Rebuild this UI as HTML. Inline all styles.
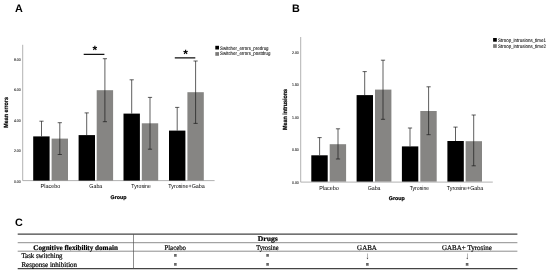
<!DOCTYPE html><html><head><meta charset="utf-8"><title>Figure</title>
<style>html,body{margin:0;padding:0;background:#fff}svg{display:block}text{text-rendering:geometricPrecision;font-family:"Liberation Sans",Arial,sans-serif;fill:#000}.t{stroke:#333;stroke-width:0.08px}.u{stroke:#000;stroke-width:0.2px}.s{font-family:"Liberation Serif","Times New Roman",serif}</style></head><body>
<svg width="550" height="274" viewBox="0 0 550 274">
<rect width="550" height="274" fill="#fff"/>
<text x="15.1" y="12.1" font-size="10.8" font-weight="bold">A</text>
<text x="292.0" y="12.1" font-size="10.8" font-weight="bold">B</text>
<text x="15.1" y="226.2" font-size="10.8" font-weight="bold">C</text>
<path d="M22.7 44.8V180.6H214.6" stroke="#909090" stroke-width="0.7" fill="none"/>
<text transform="translate(20.7 60.65) scale(0.9 1)" class="t" font-size="3.9" text-anchor="end" fill="#333">8.00</text>
<text transform="translate(20.7 91.15) scale(0.9 1)" class="t" font-size="3.9" text-anchor="end" fill="#333">6.00</text>
<text transform="translate(20.7 121.65) scale(0.9 1)" class="t" font-size="3.9" text-anchor="end" fill="#333">4.00</text>
<text transform="translate(20.7 152.15) scale(0.9 1)" class="t" font-size="3.9" text-anchor="end" fill="#333">2.00</text>
<text transform="translate(20.7 183.05) scale(0.9 1)" class="t" font-size="3.9" text-anchor="end" fill="#333">0.00</text>
<rect x="33.20" y="136.40" width="16.40" height="44.20" fill="#000"/>
<rect x="51.60" y="138.60" width="16.40" height="42.00" fill="#868583"/>
<rect x="78.60" y="135.10" width="16.40" height="45.50" fill="#000"/>
<rect x="96.70" y="90.20" width="16.40" height="90.40" fill="#868583"/>
<rect x="123.50" y="113.60" width="16.40" height="67.00" fill="#000"/>
<rect x="141.80" y="123.30" width="16.40" height="57.30" fill="#868583"/>
<rect x="169.00" y="130.60" width="16.40" height="50.00" fill="#000"/>
<rect x="187.40" y="92.20" width="16.40" height="88.40" fill="#868583"/>
<path d="M41.50 121.20V136.40M39.40 121.20H43.60" stroke="#1a1a1a" stroke-width="0.7" fill="none"/>
<path d="M59.80 122.70V154.50M57.70 122.70H61.90M57.70 154.50H61.90" stroke="#1a1a1a" stroke-width="0.7" fill="none"/>
<path d="M86.70 112.90V135.10M84.60 112.90H88.80" stroke="#1a1a1a" stroke-width="0.7" fill="none"/>
<path d="M104.90 58.70V121.70M102.80 58.70H107.00M102.80 121.70H107.00" stroke="#1a1a1a" stroke-width="0.7" fill="none"/>
<path d="M131.70 79.80V113.60M129.60 79.80H133.80" stroke="#1a1a1a" stroke-width="0.7" fill="none"/>
<path d="M150.00 97.40V149.20M147.90 97.40H152.10M147.90 149.20H152.10" stroke="#1a1a1a" stroke-width="0.7" fill="none"/>
<path d="M177.20 107.40V130.60M175.10 107.40H179.30" stroke="#1a1a1a" stroke-width="0.7" fill="none"/>
<path d="M195.60 61.00V123.40M193.50 61.00H197.70M193.50 123.40H197.70" stroke="#1a1a1a" stroke-width="0.7" fill="none"/>
<path d="M83.7 54.4H104.4M174.8 57.8H195.3" stroke="#111" stroke-width="1.3"/>
<text x="94.8" y="53.9" font-size="12" font-weight="bold" text-anchor="middle">*</text>
<text x="185.6" y="57.6" font-size="12" font-weight="bold" text-anchor="middle">*</text>
<text class="" transform="translate(50.4 188.2) scale(0.9399 1)" font-size="5.8" text-anchor="middle" fill="#666">Placebo</text>
<text class="" transform="translate(95.8 188.2) scale(0.9091 1)" font-size="5.8" text-anchor="middle" fill="#666">Gaba</text>
<text class="" transform="translate(141.1 188.2) scale(0.8896 1)" font-size="5.8" text-anchor="middle" fill="#666">Tyrosine</text>
<text class="" transform="translate(186.5 188.2) scale(0.9241 1)" font-size="5.8" text-anchor="middle" fill="#666">Tyrosine+Gaba</text>
<text x="118.5" y="199.4" font-size="5.3" font-weight="bold" text-anchor="middle" class="u" fill="#111">Group</text>
<text transform="translate(8.4 112.4) rotate(-90) scale(0.89 1)" font-size="6" font-weight="bold" text-anchor="middle" class="u" fill="#111">Mean errors</text>
<rect x="215.3" y="45.8" width="3.7" height="3.7" fill="#000"/>
<rect x="215.3" y="52.1" width="3.7" height="3.7" fill="#7c7b79"/>
<text transform="translate(220.1 49.9) scale(0.88 1)" class="t" font-size="5" fill="#333">Switcher_errors_predrug</text>
<text transform="translate(220.1 55.3) scale(0.88 1)" class="t" font-size="5" fill="#333">Switcher_errors_postdrug</text>
<path d="M300.7 37V182.1H492.8" stroke="#909090" stroke-width="0.7" fill="none"/>
<text transform="translate(298.8 53.65) scale(0.9 1)" class="t" font-size="3.9" text-anchor="end" fill="#333">2.00</text>
<text transform="translate(298.8 86.15) scale(0.9 1)" class="t" font-size="3.9" text-anchor="end" fill="#333">1.50</text>
<text transform="translate(298.8 118.65) scale(0.9 1)" class="t" font-size="3.9" text-anchor="end" fill="#333">1.00</text>
<text transform="translate(298.8 151.15) scale(0.9 1)" class="t" font-size="3.9" text-anchor="end" fill="#333">0.50</text>
<text transform="translate(298.8 183.55) scale(0.9 1)" class="t" font-size="3.9" text-anchor="end" fill="#333">0.00</text>
<rect x="311.30" y="155.30" width="16.40" height="26.30" fill="#000"/>
<rect x="329.70" y="144.20" width="16.40" height="37.40" fill="#868583"/>
<rect x="356.60" y="95.10" width="16.40" height="86.50" fill="#000"/>
<rect x="375.00" y="89.60" width="16.40" height="92.00" fill="#868583"/>
<rect x="401.90" y="146.40" width="16.40" height="35.20" fill="#000"/>
<rect x="420.30" y="111.00" width="16.40" height="70.60" fill="#868583"/>
<rect x="447.40" y="141.00" width="16.40" height="40.60" fill="#000"/>
<rect x="465.60" y="141.20" width="16.40" height="40.40" fill="#868583"/>
<path d="M319.60 137.60V155.30M317.50 137.60H321.70" stroke="#1a1a1a" stroke-width="0.7" fill="none"/>
<path d="M338.00 128.80V159.00M335.90 128.80H340.10M335.90 159.00H340.10" stroke="#1a1a1a" stroke-width="0.7" fill="none"/>
<path d="M364.70 71.60V95.10M362.60 71.60H366.80" stroke="#1a1a1a" stroke-width="0.7" fill="none"/>
<path d="M383.00 60.20V119.30M380.90 60.20H385.10M380.90 119.30H385.10" stroke="#1a1a1a" stroke-width="0.7" fill="none"/>
<path d="M410.00 128.00V146.40M407.90 128.00H412.10" stroke="#1a1a1a" stroke-width="0.7" fill="none"/>
<path d="M428.60 86.80V134.70M426.50 86.80H430.70M426.50 134.70H430.70" stroke="#1a1a1a" stroke-width="0.7" fill="none"/>
<path d="M455.50 127.10V141.00M453.40 127.10H457.60" stroke="#1a1a1a" stroke-width="0.7" fill="none"/>
<path d="M473.70 115.00V165.80M471.60 115.00H475.80M471.60 165.80H475.80" stroke="#1a1a1a" stroke-width="0.7" fill="none"/>
<text class="" transform="translate(329 189.6) scale(0.9399 1)" font-size="5.8" text-anchor="middle" fill="#666">Placebo</text>
<text class="" transform="translate(374.1 189.6) scale(0.9091 1)" font-size="5.8" text-anchor="middle" fill="#666">Gaba</text>
<text class="" transform="translate(419.4 189.6) scale(0.8896 1)" font-size="5.8" text-anchor="middle" fill="#666">Tyrosine</text>
<text class="" transform="translate(465 189.6) scale(0.9241 1)" font-size="5.8" text-anchor="middle" fill="#666">Tyrosine+Gaba</text>
<text x="396.8" y="200.4" font-size="5.3" font-weight="bold" text-anchor="middle" class="u" fill="#111">Group</text>
<text transform="translate(287.2 109.5) rotate(-90) scale(0.89 1)" font-size="6" font-weight="bold" text-anchor="middle" class="u" fill="#111">Mean intrusions</text>
<rect x="493.1" y="38.0" width="3.7" height="3.7" fill="#000"/>
<rect x="493.1" y="44.2" width="3.7" height="3.7" fill="#7c7b79"/>
<text transform="translate(498.0 42.3) scale(0.89 1)" class="t" font-size="5" fill="#333">Stroop_intrusions_time1</text>
<text transform="translate(498.0 47.9) scale(0.89 1)" class="t" font-size="5" fill="#333">Stroop_intrusions_time2</text>
<path d="M17.7 234.1H517.4M17.7 268.7H517.4" stroke="#444" stroke-width="1.2"/>
<path d="M17.7 242.7H517.4M17.7 251.2H517.4M133.5 234.1V268.7" stroke="#505050" stroke-width="0.65"/>
<text class="s u" transform="translate(267.8 240.8) scale(1.0637 1)" font-size="7.2" font-weight="bold" text-anchor="middle" fill="#000">Drugs</text>
<text class="s u" transform="translate(75.7 249.5) scale(0.9906 1)" font-size="7.2" font-weight="bold" text-anchor="middle" fill="#000">Cognitive flexibility domain</text>
<text class="s u" transform="translate(175.2 249.5) scale(0.9433 1)" font-size="7.2" text-anchor="middle" fill="#000">Placebo</text>
<text class="s u" transform="translate(267.4 249.5) scale(0.8967 1)" font-size="7.2" text-anchor="middle" fill="#000">Tyrosine</text>
<text class="s u" transform="translate(367 249.5) scale(0.9754 1)" font-size="7.2" text-anchor="middle" fill="#000">GABA</text>
<text class="s u" transform="translate(466.9 249.5) scale(0.9742 1)" font-size="7.2" text-anchor="middle" fill="#000">GABA+ Tyrosine</text>
<text class="s u" transform="translate(21.4 258.0) scale(0.9517 1)" font-size="7.2" text-anchor="start" fill="#000">Task switching</text>
<text class="s u" transform="translate(21.4 266.6) scale(0.9721 1)" font-size="7.2" text-anchor="start" fill="#000">Response inhibition</text>
<text x="175.4" y="257.05" font-size="4.6" font-weight="bold" text-anchor="middle" fill="#111" stroke="#111" stroke-width="0.3">=</text>
<text x="175.4" y="265.55" font-size="4.6" font-weight="bold" text-anchor="middle" fill="#111" stroke="#111" stroke-width="0.3">=</text>
<text x="267.6" y="257.05" font-size="4.6" font-weight="bold" text-anchor="middle" fill="#111" stroke="#111" stroke-width="0.3">=</text>
<text x="267.6" y="265.55" font-size="4.6" font-weight="bold" text-anchor="middle" fill="#111" stroke="#111" stroke-width="0.3">=</text>
<text class="s" transform="translate(367.4 258.50) scale(0.95 1.35)" font-size="7.2" text-anchor="middle">↓</text>
<text x="367.4" y="265.55" font-size="4.6" font-weight="bold" text-anchor="middle" fill="#111" stroke="#111" stroke-width="0.3">=</text>
<text class="s" transform="translate(467.2 258.50) scale(0.95 1.35)" font-size="7.2" text-anchor="middle">↓</text>
<text x="467.2" y="265.55" font-size="4.6" font-weight="bold" text-anchor="middle" fill="#111" stroke="#111" stroke-width="0.3">=</text>
</svg></body></html>
